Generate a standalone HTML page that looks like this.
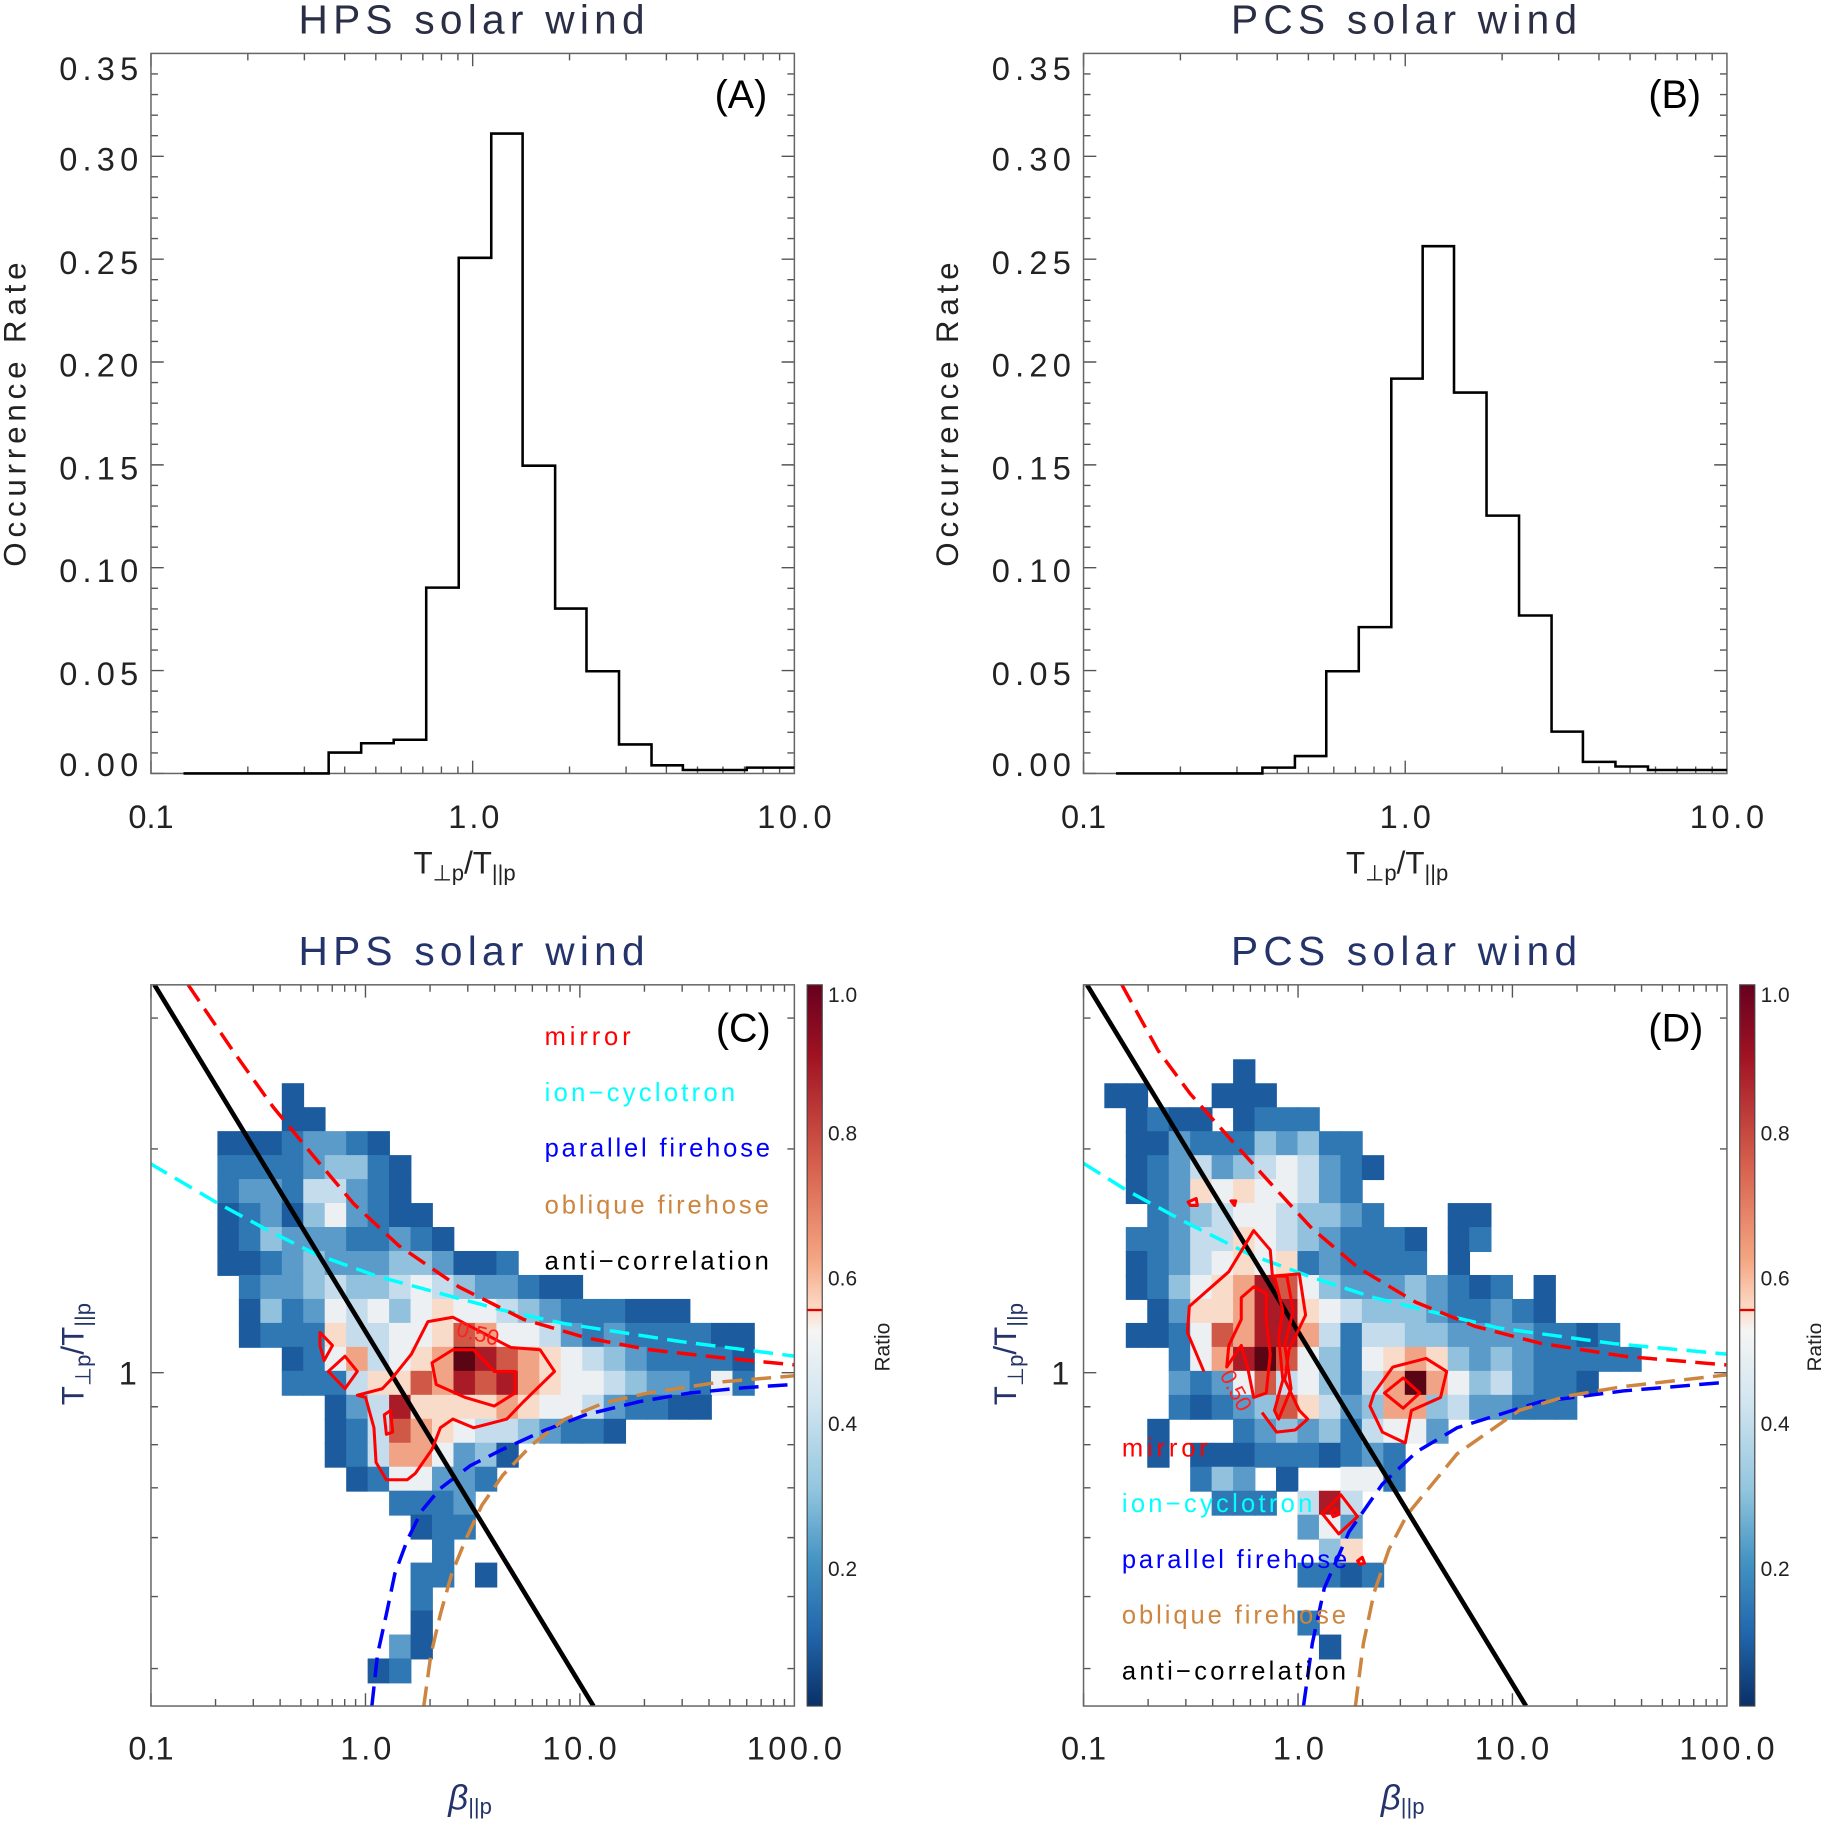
<!DOCTYPE html>
<html><head><meta charset="utf-8">
<style>
html,body{margin:0;padding:0;background:#fff;}
svg{display:block;}
text{font-family:"Liberation Sans",sans-serif;}
.a{fill:#1c5c9e}.b{fill:#2f78b4}.c{fill:#5b9bca}.d{fill:#92c1de}.e{fill:#c5dcec}.f{fill:#ecf0f3}.g{fill:#f9dbca}.h{fill:#f1a386}.i{fill:#d05846}.j{fill:#a91b27}.k{fill:#5a0514}
</style></head>
<body>
<svg width="1821" height="1821" viewBox="0 0 1568 1568">
<defs>
<linearGradient id="cb" x1="0" y1="0" x2="0" y2="1">
<stop offset="0" stop-color="#67001f"/><stop offset="0.1" stop-color="#a11323"/><stop offset="0.25" stop-color="#d6604d"/><stop offset="0.38" stop-color="#f4a582"/><stop offset="0.45" stop-color="#fddbc7"/><stop offset="0.48" stop-color="#f5f5f5"/><stop offset="0.58" stop-color="#d1e5f0"/><stop offset="0.7" stop-color="#92c5de"/><stop offset="0.8" stop-color="#4393c3"/><stop offset="0.9" stop-color="#2166ac"/><stop offset="1" stop-color="#0a3067"/>
</linearGradient>
<clipPath id="clC"><rect x="130" y="848" width="554" height="621"/></clipPath>
<clipPath id="clD"><rect x="933" y="848" width="554" height="621"/></clipPath>
<path id="decA" d="M0,666v-11M0,46v11M83.4,666v-6M83.4,46v6M132.1,666v-6M132.1,46v6M166.8,666v-6M166.8,46v6M193.6,666v-6M193.6,46v6M215.5,666v-6M215.5,46v6M234.1,666v-6M234.1,46v6M250.1,666v-6M250.1,46v6M264.3,666v-6M264.3,46v6"/>
<path id="decC" d="M0,1469v-11M0,848v11M55.6,1469v-6M55.6,848v6M88.1,1469v-6M88.1,848v6M111.2,1469v-6M111.2,848v6M129.1,1469v-6M129.1,848v6M143.7,1469v-6M143.7,848v6M156.1,1469v-6M156.1,848v6M166.8,1469v-6M166.8,848v6M176.2,1469v-6M176.2,848v6"/>
<path id="yA" d="M130,666h11M684,666h-11M130,648.3h6M684,648.3h-6M130,630.6h6M684,630.6h-6M130,612.9h6M684,612.9h-6M130,595.1h6M684,595.1h-6"/>
<path id="yC" d="M130,1436.7h6M684,1436.7h-6M130,1374.7h6M684,1374.7h-6M130,1324h6M684,1324h-6M130,1281.1h6M684,1281.1h-6M130,1244h6M684,1244h-6M130,1211.3h6M684,1211.3h-6M130,1182h11M684,1182h-11M130,989.3h6M684,989.3h-6M130,876.6h6M684,876.6h-6"/>
</defs>
<rect width="1568" height="1568" fill="#fff"/>

<!-- heatmap C -->
<g transform="translate(187.2,932.7) scale(18.48,20.64)">
<rect x="3" y="0" width="1.04" height="1.04" class="a"/>
<rect x="3" y="1" width="1.04" height="1.04" class="a"/><rect x="4" y="1" width="1.04" height="1.04" class="a"/>
<rect x="0" y="2" width="1.04" height="1.04" class="a"/><rect x="1" y="2" width="1.04" height="1.04" class="a"/><rect x="2" y="2" width="1.04" height="1.04" class="a"/><rect x="3" y="2" width="1.04" height="1.04" class="b"/><rect x="4" y="2" width="1.04" height="1.04" class="c"/><rect x="5" y="2" width="1.04" height="1.04" class="c"/><rect x="6" y="2" width="1.04" height="1.04" class="b"/><rect x="7" y="2" width="1.04" height="1.04" class="a"/>
<rect x="0" y="3" width="1.04" height="1.04" class="b"/><rect x="1" y="3" width="1.04" height="1.04" class="b"/><rect x="2" y="3" width="1.04" height="1.04" class="b"/><rect x="3" y="3" width="1.04" height="1.04" class="b"/><rect x="4" y="3" width="1.04" height="1.04" class="c"/><rect x="5" y="3" width="1.04" height="1.04" class="d"/><rect x="6" y="3" width="1.04" height="1.04" class="d"/><rect x="7" y="3" width="1.04" height="1.04" class="b"/><rect x="8" y="3" width="1.04" height="1.04" class="a"/>
<rect x="0" y="4" width="1.04" height="1.04" class="b"/><rect x="1" y="4" width="1.04" height="1.04" class="c"/><rect x="2" y="4" width="1.04" height="1.04" class="c"/><rect x="3" y="4" width="1.04" height="1.04" class="b"/><rect x="4" y="4" width="1.04" height="1.04" class="e"/><rect x="5" y="4" width="1.04" height="1.04" class="e"/><rect x="6" y="4" width="1.04" height="1.04" class="c"/><rect x="7" y="4" width="1.04" height="1.04" class="b"/><rect x="8" y="4" width="1.04" height="1.04" class="a"/>
<rect x="0" y="5" width="1.04" height="1.04" class="a"/><rect x="1" y="5" width="1.04" height="1.04" class="b"/><rect x="2" y="5" width="1.04" height="1.04" class="c"/><rect x="3" y="5" width="1.04" height="1.04" class="a"/><rect x="4" y="5" width="1.04" height="1.04" class="d"/><rect x="5" y="5" width="1.04" height="1.04" class="f"/><rect x="6" y="5" width="1.04" height="1.04" class="c"/><rect x="7" y="5" width="1.04" height="1.04" class="b"/><rect x="8" y="5" width="1.04" height="1.04" class="a"/><rect x="9" y="5" width="1.04" height="1.04" class="a"/>
<rect x="0" y="6" width="1.04" height="1.04" class="a"/><rect x="1" y="6" width="1.04" height="1.04" class="b"/><rect x="2" y="6" width="1.04" height="1.04" class="d"/><rect x="3" y="6" width="1.04" height="1.04" class="c"/><rect x="4" y="6" width="1.04" height="1.04" class="c"/><rect x="5" y="6" width="1.04" height="1.04" class="c"/><rect x="6" y="6" width="1.04" height="1.04" class="b"/><rect x="7" y="6" width="1.04" height="1.04" class="b"/><rect x="8" y="6" width="1.04" height="1.04" class="c"/><rect x="9" y="6" width="1.04" height="1.04" class="b"/><rect x="10" y="6" width="1.04" height="1.04" class="a"/>
<rect x="0" y="7" width="1.04" height="1.04" class="a"/><rect x="1" y="7" width="1.04" height="1.04" class="a"/><rect x="2" y="7" width="1.04" height="1.04" class="b"/><rect x="3" y="7" width="1.04" height="1.04" class="c"/><rect x="4" y="7" width="1.04" height="1.04" class="d"/><rect x="5" y="7" width="1.04" height="1.04" class="c"/><rect x="6" y="7" width="1.04" height="1.04" class="c"/><rect x="7" y="7" width="1.04" height="1.04" class="c"/><rect x="8" y="7" width="1.04" height="1.04" class="d"/><rect x="9" y="7" width="1.04" height="1.04" class="d"/><rect x="10" y="7" width="1.04" height="1.04" class="c"/><rect x="11" y="7" width="1.04" height="1.04" class="a"/><rect x="12" y="7" width="1.04" height="1.04" class="a"/><rect x="13" y="7" width="1.04" height="1.04" class="b"/>
<rect x="1" y="8" width="1.04" height="1.04" class="b"/><rect x="2" y="8" width="1.04" height="1.04" class="c"/><rect x="3" y="8" width="1.04" height="1.04" class="c"/><rect x="4" y="8" width="1.04" height="1.04" class="d"/><rect x="5" y="8" width="1.04" height="1.04" class="e"/><rect x="6" y="8" width="1.04" height="1.04" class="d"/><rect x="7" y="8" width="1.04" height="1.04" class="d"/><rect x="8" y="8" width="1.04" height="1.04" class="e"/><rect x="9" y="8" width="1.04" height="1.04" class="f"/><rect x="10" y="8" width="1.04" height="1.04" class="e"/><rect x="11" y="8" width="1.04" height="1.04" class="d"/><rect x="12" y="8" width="1.04" height="1.04" class="c"/><rect x="13" y="8" width="1.04" height="1.04" class="c"/><rect x="14" y="8" width="1.04" height="1.04" class="b"/><rect x="15" y="8" width="1.04" height="1.04" class="a"/><rect x="16" y="8" width="1.04" height="1.04" class="a"/>
<rect x="1" y="9" width="1.04" height="1.04" class="a"/><rect x="2" y="9" width="1.04" height="1.04" class="d"/><rect x="3" y="9" width="1.04" height="1.04" class="b"/><rect x="4" y="9" width="1.04" height="1.04" class="c"/><rect x="5" y="9" width="1.04" height="1.04" class="f"/><rect x="6" y="9" width="1.04" height="1.04" class="e"/><rect x="7" y="9" width="1.04" height="1.04" class="f"/><rect x="8" y="9" width="1.04" height="1.04" class="d"/><rect x="9" y="9" width="1.04" height="1.04" class="f"/><rect x="10" y="9" width="1.04" height="1.04" class="g"/><rect x="11" y="9" width="1.04" height="1.04" class="f"/><rect x="12" y="9" width="1.04" height="1.04" class="f"/><rect x="13" y="9" width="1.04" height="1.04" class="e"/><rect x="14" y="9" width="1.04" height="1.04" class="d"/><rect x="15" y="9" width="1.04" height="1.04" class="c"/><rect x="16" y="9" width="1.04" height="1.04" class="b"/><rect x="17" y="9" width="1.04" height="1.04" class="b"/><rect x="18" y="9" width="1.04" height="1.04" class="b"/><rect x="19" y="9" width="1.04" height="1.04" class="a"/><rect x="20" y="9" width="1.04" height="1.04" class="a"/><rect x="21" y="9" width="1.04" height="1.04" class="a"/>
<rect x="1" y="10" width="1.04" height="1.04" class="a"/><rect x="2" y="10" width="1.04" height="1.04" class="b"/><rect x="3" y="10" width="1.04" height="1.04" class="b"/><rect x="4" y="10" width="1.04" height="1.04" class="b"/><rect x="5" y="10" width="1.04" height="1.04" class="g"/><rect x="6" y="10" width="1.04" height="1.04" class="e"/><rect x="7" y="10" width="1.04" height="1.04" class="e"/><rect x="8" y="10" width="1.04" height="1.04" class="f"/><rect x="9" y="10" width="1.04" height="1.04" class="f"/><rect x="10" y="10" width="1.04" height="1.04" class="g"/><rect x="11" y="10" width="1.04" height="1.04" class="i"/><rect x="12" y="10" width="1.04" height="1.04" class="h"/><rect x="13" y="10" width="1.04" height="1.04" class="f"/><rect x="14" y="10" width="1.04" height="1.04" class="f"/><rect x="15" y="10" width="1.04" height="1.04" class="e"/><rect x="16" y="10" width="1.04" height="1.04" class="c"/><rect x="17" y="10" width="1.04" height="1.04" class="b"/><rect x="18" y="10" width="1.04" height="1.04" class="c"/><rect x="19" y="10" width="1.04" height="1.04" class="b"/><rect x="20" y="10" width="1.04" height="1.04" class="b"/><rect x="21" y="10" width="1.04" height="1.04" class="b"/><rect x="22" y="10" width="1.04" height="1.04" class="b"/><rect x="23" y="10" width="1.04" height="1.04" class="a"/><rect x="24" y="10" width="1.04" height="1.04" class="a"/>
<rect x="3" y="11" width="1.04" height="1.04" class="a"/><rect x="4" y="11" width="1.04" height="1.04" class="b"/><rect x="5" y="11" width="1.04" height="1.04" class="f"/><rect x="6" y="11" width="1.04" height="1.04" class="h"/><rect x="7" y="11" width="1.04" height="1.04" class="e"/><rect x="8" y="11" width="1.04" height="1.04" class="f"/><rect x="9" y="11" width="1.04" height="1.04" class="g"/><rect x="10" y="11" width="1.04" height="1.04" class="h"/><rect x="11" y="11" width="1.04" height="1.04" class="k"/><rect x="12" y="11" width="1.04" height="1.04" class="j"/><rect x="13" y="11" width="1.04" height="1.04" class="i"/><rect x="14" y="11" width="1.04" height="1.04" class="h"/><rect x="15" y="11" width="1.04" height="1.04" class="g"/><rect x="16" y="11" width="1.04" height="1.04" class="f"/><rect x="17" y="11" width="1.04" height="1.04" class="e"/><rect x="18" y="11" width="1.04" height="1.04" class="d"/><rect x="19" y="11" width="1.04" height="1.04" class="c"/><rect x="20" y="11" width="1.04" height="1.04" class="b"/><rect x="21" y="11" width="1.04" height="1.04" class="b"/><rect x="22" y="11" width="1.04" height="1.04" class="b"/><rect x="23" y="11" width="1.04" height="1.04" class="b"/><rect x="24" y="11" width="1.04" height="1.04" class="a"/>
<rect x="3" y="12" width="1.04" height="1.04" class="b"/><rect x="4" y="12" width="1.04" height="1.04" class="b"/><rect x="5" y="12" width="1.04" height="1.04" class="b"/><rect x="6" y="12" width="1.04" height="1.04" class="e"/><rect x="7" y="12" width="1.04" height="1.04" class="g"/><rect x="8" y="12" width="1.04" height="1.04" class="g"/><rect x="9" y="12" width="1.04" height="1.04" class="i"/><rect x="10" y="12" width="1.04" height="1.04" class="h"/><rect x="11" y="12" width="1.04" height="1.04" class="j"/><rect x="12" y="12" width="1.04" height="1.04" class="i"/><rect x="13" y="12" width="1.04" height="1.04" class="j"/><rect x="14" y="12" width="1.04" height="1.04" class="h"/><rect x="15" y="12" width="1.04" height="1.04" class="g"/><rect x="16" y="12" width="1.04" height="1.04" class="f"/><rect x="17" y="12" width="1.04" height="1.04" class="f"/><rect x="18" y="12" width="1.04" height="1.04" class="e"/><rect x="19" y="12" width="1.04" height="1.04" class="d"/><rect x="20" y="12" width="1.04" height="1.04" class="c"/><rect x="21" y="12" width="1.04" height="1.04" class="c"/><rect x="22" y="12" width="1.04" height="1.04" class="b"/><rect x="23" y="12" width="1.04" height="1.04" class="f"/><rect x="24" y="12" width="1.04" height="1.04" class="b"/>
<rect x="5" y="13" width="1.04" height="1.04" class="a"/><rect x="6" y="13" width="1.04" height="1.04" class="c"/><rect x="7" y="13" width="1.04" height="1.04" class="e"/><rect x="8" y="13" width="1.04" height="1.04" class="j"/><rect x="9" y="13" width="1.04" height="1.04" class="g"/><rect x="10" y="13" width="1.04" height="1.04" class="g"/><rect x="11" y="13" width="1.04" height="1.04" class="g"/><rect x="12" y="13" width="1.04" height="1.04" class="g"/><rect x="13" y="13" width="1.04" height="1.04" class="h"/><rect x="14" y="13" width="1.04" height="1.04" class="g"/><rect x="15" y="13" width="1.04" height="1.04" class="f"/><rect x="16" y="13" width="1.04" height="1.04" class="f"/><rect x="17" y="13" width="1.04" height="1.04" class="e"/><rect x="18" y="13" width="1.04" height="1.04" class="c"/><rect x="19" y="13" width="1.04" height="1.04" class="b"/><rect x="20" y="13" width="1.04" height="1.04" class="b"/><rect x="21" y="13" width="1.04" height="1.04" class="a"/><rect x="22" y="13" width="1.04" height="1.04" class="a"/>
<rect x="5" y="14" width="1.04" height="1.04" class="a"/><rect x="6" y="14" width="1.04" height="1.04" class="b"/><rect x="7" y="14" width="1.04" height="1.04" class="e"/><rect x="8" y="14" width="1.04" height="1.04" class="i"/><rect x="9" y="14" width="1.04" height="1.04" class="h"/><rect x="10" y="14" width="1.04" height="1.04" class="g"/><rect x="11" y="14" width="1.04" height="1.04" class="f"/><rect x="12" y="14" width="1.04" height="1.04" class="e"/><rect x="13" y="14" width="1.04" height="1.04" class="e"/><rect x="14" y="14" width="1.04" height="1.04" class="d"/><rect x="15" y="14" width="1.04" height="1.04" class="c"/><rect x="16" y="14" width="1.04" height="1.04" class="b"/><rect x="17" y="14" width="1.04" height="1.04" class="b"/><rect x="18" y="14" width="1.04" height="1.04" class="a"/>
<rect x="5" y="15" width="1.04" height="1.04" class="a"/><rect x="6" y="15" width="1.04" height="1.04" class="b"/><rect x="7" y="15" width="1.04" height="1.04" class="e"/><rect x="8" y="15" width="1.04" height="1.04" class="h"/><rect x="9" y="15" width="1.04" height="1.04" class="h"/><rect x="10" y="15" width="1.04" height="1.04" class="f"/><rect x="11" y="15" width="1.04" height="1.04" class="c"/><rect x="12" y="15" width="1.04" height="1.04" class="d"/><rect x="13" y="15" width="1.04" height="1.04" class="a"/>
<rect x="6" y="16" width="1.04" height="1.04" class="a"/><rect x="7" y="16" width="1.04" height="1.04" class="b"/><rect x="8" y="16" width="1.04" height="1.04" class="f"/><rect x="9" y="16" width="1.04" height="1.04" class="f"/><rect x="10" y="16" width="1.04" height="1.04" class="c"/><rect x="11" y="16" width="1.04" height="1.04" class="c"/><rect x="12" y="16" width="1.04" height="1.04" class="b"/>
<rect x="8" y="17" width="1.04" height="1.04" class="b"/><rect x="9" y="17" width="1.04" height="1.04" class="b"/><rect x="10" y="17" width="1.04" height="1.04" class="b"/><rect x="11" y="17" width="1.04" height="1.04" class="c"/>
<rect x="9" y="18" width="1.04" height="1.04" class="a"/><rect x="10" y="18" width="1.04" height="1.04" class="b"/><rect x="11" y="18" width="1.04" height="1.04" class="b"/>
<rect x="10" y="19" width="1.04" height="1.04" class="b"/>
<rect x="9" y="20" width="1.04" height="1.04" class="b"/><rect x="10" y="20" width="1.04" height="1.04" class="b"/><rect x="12" y="20" width="1.04" height="1.04" class="a"/>
<rect x="9" y="21" width="1.04" height="1.04" class="b"/>
<rect x="9" y="22" width="1.04" height="1.04" class="a"/>
<rect x="8" y="23" width="1.04" height="1.04" class="c"/><rect x="9" y="23" width="1.04" height="1.04" class="a"/>
<rect x="7" y="24" width="1.04" height="1.04" class="a"/><rect x="8" y="24" width="1.04" height="1.04" class="b"/>
</g>

<!-- heatmap D -->
<g transform="translate(950.9,912.1) scale(18.48,20.64)">
<rect x="6" y="0" width="1.04" height="1.04" class="a"/>
<rect x="0" y="1" width="1.04" height="1.04" class="a"/><rect x="1" y="1" width="1.04" height="1.04" class="a"/><rect x="5" y="1" width="1.04" height="1.04" class="a"/><rect x="6" y="1" width="1.04" height="1.04" class="a"/><rect x="7" y="1" width="1.04" height="1.04" class="a"/>
<rect x="1" y="2" width="1.04" height="1.04" class="a"/><rect x="2" y="2" width="1.04" height="1.04" class="b"/><rect x="3" y="2" width="1.04" height="1.04" class="a"/><rect x="4" y="2" width="1.04" height="1.04" class="a"/><rect x="6" y="2" width="1.04" height="1.04" class="a"/><rect x="7" y="2" width="1.04" height="1.04" class="b"/><rect x="8" y="2" width="1.04" height="1.04" class="b"/><rect x="9" y="2" width="1.04" height="1.04" class="b"/>
<rect x="1" y="3" width="1.04" height="1.04" class="a"/><rect x="2" y="3" width="1.04" height="1.04" class="a"/><rect x="3" y="3" width="1.04" height="1.04" class="c"/><rect x="4" y="3" width="1.04" height="1.04" class="b"/><rect x="5" y="3" width="1.04" height="1.04" class="b"/><rect x="6" y="3" width="1.04" height="1.04" class="b"/><rect x="7" y="3" width="1.04" height="1.04" class="d"/><rect x="8" y="3" width="1.04" height="1.04" class="c"/><rect x="9" y="3" width="1.04" height="1.04" class="d"/><rect x="10" y="3" width="1.04" height="1.04" class="b"/><rect x="11" y="3" width="1.04" height="1.04" class="b"/>
<rect x="1" y="4" width="1.04" height="1.04" class="a"/><rect x="2" y="4" width="1.04" height="1.04" class="b"/><rect x="3" y="4" width="1.04" height="1.04" class="c"/><rect x="4" y="4" width="1.04" height="1.04" class="e"/><rect x="5" y="4" width="1.04" height="1.04" class="c"/><rect x="6" y="4" width="1.04" height="1.04" class="d"/><rect x="7" y="4" width="1.04" height="1.04" class="e"/><rect x="8" y="4" width="1.04" height="1.04" class="f"/><rect x="9" y="4" width="1.04" height="1.04" class="e"/><rect x="10" y="4" width="1.04" height="1.04" class="c"/><rect x="11" y="4" width="1.04" height="1.04" class="b"/><rect x="12" y="4" width="1.04" height="1.04" class="a"/>
<rect x="1" y="5" width="1.04" height="1.04" class="a"/><rect x="2" y="5" width="1.04" height="1.04" class="b"/><rect x="3" y="5" width="1.04" height="1.04" class="c"/><rect x="4" y="5" width="1.04" height="1.04" class="g"/><rect x="5" y="5" width="1.04" height="1.04" class="f"/><rect x="6" y="5" width="1.04" height="1.04" class="g"/><rect x="7" y="5" width="1.04" height="1.04" class="f"/><rect x="8" y="5" width="1.04" height="1.04" class="f"/><rect x="9" y="5" width="1.04" height="1.04" class="e"/><rect x="10" y="5" width="1.04" height="1.04" class="c"/><rect x="11" y="5" width="1.04" height="1.04" class="b"/>
<rect x="2" y="6" width="1.04" height="1.04" class="b"/><rect x="3" y="6" width="1.04" height="1.04" class="c"/><rect x="4" y="6" width="1.04" height="1.04" class="d"/><rect x="5" y="6" width="1.04" height="1.04" class="e"/><rect x="6" y="6" width="1.04" height="1.04" class="f"/><rect x="7" y="6" width="1.04" height="1.04" class="f"/><rect x="8" y="6" width="1.04" height="1.04" class="e"/><rect x="9" y="6" width="1.04" height="1.04" class="d"/><rect x="10" y="6" width="1.04" height="1.04" class="d"/><rect x="11" y="6" width="1.04" height="1.04" class="c"/><rect x="12" y="6" width="1.04" height="1.04" class="b"/><rect x="16" y="6" width="1.04" height="1.04" class="a"/><rect x="17" y="6" width="1.04" height="1.04" class="a"/>
<rect x="1" y="7" width="1.04" height="1.04" class="b"/><rect x="2" y="7" width="1.04" height="1.04" class="b"/><rect x="3" y="7" width="1.04" height="1.04" class="c"/><rect x="4" y="7" width="1.04" height="1.04" class="e"/><rect x="5" y="7" width="1.04" height="1.04" class="e"/><rect x="6" y="7" width="1.04" height="1.04" class="g"/><rect x="7" y="7" width="1.04" height="1.04" class="f"/><rect x="8" y="7" width="1.04" height="1.04" class="e"/><rect x="9" y="7" width="1.04" height="1.04" class="d"/><rect x="10" y="7" width="1.04" height="1.04" class="c"/><rect x="11" y="7" width="1.04" height="1.04" class="b"/><rect x="12" y="7" width="1.04" height="1.04" class="b"/><rect x="13" y="7" width="1.04" height="1.04" class="b"/><rect x="14" y="7" width="1.04" height="1.04" class="a"/><rect x="16" y="7" width="1.04" height="1.04" class="a"/><rect x="17" y="7" width="1.04" height="1.04" class="b"/>
<rect x="1" y="8" width="1.04" height="1.04" class="a"/><rect x="2" y="8" width="1.04" height="1.04" class="b"/><rect x="3" y="8" width="1.04" height="1.04" class="c"/><rect x="4" y="8" width="1.04" height="1.04" class="e"/><rect x="5" y="8" width="1.04" height="1.04" class="f"/><rect x="6" y="8" width="1.04" height="1.04" class="g"/><rect x="7" y="8" width="1.04" height="1.04" class="f"/><rect x="8" y="8" width="1.04" height="1.04" class="g"/><rect x="9" y="8" width="1.04" height="1.04" class="b"/><rect x="10" y="8" width="1.04" height="1.04" class="c"/><rect x="11" y="8" width="1.04" height="1.04" class="b"/><rect x="12" y="8" width="1.04" height="1.04" class="b"/><rect x="13" y="8" width="1.04" height="1.04" class="b"/><rect x="14" y="8" width="1.04" height="1.04" class="b"/><rect x="16" y="8" width="1.04" height="1.04" class="a"/>
<rect x="1" y="9" width="1.04" height="1.04" class="a"/><rect x="2" y="9" width="1.04" height="1.04" class="b"/><rect x="3" y="9" width="1.04" height="1.04" class="d"/><rect x="4" y="9" width="1.04" height="1.04" class="f"/><rect x="5" y="9" width="1.04" height="1.04" class="g"/><rect x="6" y="9" width="1.04" height="1.04" class="h"/><rect x="7" y="9" width="1.04" height="1.04" class="j"/><rect x="8" y="9" width="1.04" height="1.04" class="i"/><rect x="9" y="9" width="1.04" height="1.04" class="f"/><rect x="10" y="9" width="1.04" height="1.04" class="d"/><rect x="11" y="9" width="1.04" height="1.04" class="c"/><rect x="12" y="9" width="1.04" height="1.04" class="c"/><rect x="13" y="9" width="1.04" height="1.04" class="c"/><rect x="14" y="9" width="1.04" height="1.04" class="d"/><rect x="15" y="9" width="1.04" height="1.04" class="c"/><rect x="16" y="9" width="1.04" height="1.04" class="b"/><rect x="17" y="9" width="1.04" height="1.04" class="a"/><rect x="18" y="9" width="1.04" height="1.04" class="b"/><rect x="20" y="9" width="1.04" height="1.04" class="a"/>
<rect x="2" y="10" width="1.04" height="1.04" class="a"/><rect x="3" y="10" width="1.04" height="1.04" class="c"/><rect x="4" y="10" width="1.04" height="1.04" class="g"/><rect x="5" y="10" width="1.04" height="1.04" class="g"/><rect x="6" y="10" width="1.04" height="1.04" class="h"/><rect x="7" y="10" width="1.04" height="1.04" class="j"/><rect x="8" y="10" width="1.04" height="1.04" class="j"/><rect x="9" y="10" width="1.04" height="1.04" class="g"/><rect x="10" y="10" width="1.04" height="1.04" class="f"/><rect x="11" y="10" width="1.04" height="1.04" class="e"/><rect x="12" y="10" width="1.04" height="1.04" class="d"/><rect x="13" y="10" width="1.04" height="1.04" class="d"/><rect x="14" y="10" width="1.04" height="1.04" class="d"/><rect x="15" y="10" width="1.04" height="1.04" class="c"/><rect x="16" y="10" width="1.04" height="1.04" class="b"/><rect x="17" y="10" width="1.04" height="1.04" class="b"/><rect x="18" y="10" width="1.04" height="1.04" class="c"/><rect x="19" y="10" width="1.04" height="1.04" class="b"/><rect x="20" y="10" width="1.04" height="1.04" class="a"/>
<rect x="1" y="11" width="1.04" height="1.04" class="a"/><rect x="2" y="11" width="1.04" height="1.04" class="a"/><rect x="3" y="11" width="1.04" height="1.04" class="b"/><rect x="4" y="11" width="1.04" height="1.04" class="f"/><rect x="5" y="11" width="1.04" height="1.04" class="i"/><rect x="6" y="11" width="1.04" height="1.04" class="h"/><rect x="7" y="11" width="1.04" height="1.04" class="j"/><rect x="8" y="11" width="1.04" height="1.04" class="j"/><rect x="9" y="11" width="1.04" height="1.04" class="h"/><rect x="10" y="11" width="1.04" height="1.04" class="e"/><rect x="11" y="11" width="1.04" height="1.04" class="b"/><rect x="12" y="11" width="1.04" height="1.04" class="e"/><rect x="13" y="11" width="1.04" height="1.04" class="e"/><rect x="14" y="11" width="1.04" height="1.04" class="d"/><rect x="15" y="11" width="1.04" height="1.04" class="d"/><rect x="16" y="11" width="1.04" height="1.04" class="c"/><rect x="17" y="11" width="1.04" height="1.04" class="c"/><rect x="18" y="11" width="1.04" height="1.04" class="c"/><rect x="19" y="11" width="1.04" height="1.04" class="c"/><rect x="20" y="11" width="1.04" height="1.04" class="b"/><rect x="21" y="11" width="1.04" height="1.04" class="b"/><rect x="22" y="11" width="1.04" height="1.04" class="a"/><rect x="23" y="11" width="1.04" height="1.04" class="b"/>
<rect x="3" y="12" width="1.04" height="1.04" class="b"/><rect x="4" y="12" width="1.04" height="1.04" class="f"/><rect x="5" y="12" width="1.04" height="1.04" class="h"/><rect x="6" y="12" width="1.04" height="1.04" class="j"/><rect x="7" y="12" width="1.04" height="1.04" class="k"/><rect x="8" y="12" width="1.04" height="1.04" class="i"/><rect x="9" y="12" width="1.04" height="1.04" class="f"/><rect x="10" y="12" width="1.04" height="1.04" class="d"/><rect x="11" y="12" width="1.04" height="1.04" class="b"/><rect x="12" y="12" width="1.04" height="1.04" class="f"/><rect x="13" y="12" width="1.04" height="1.04" class="g"/><rect x="14" y="12" width="1.04" height="1.04" class="h"/><rect x="15" y="12" width="1.04" height="1.04" class="g"/><rect x="16" y="12" width="1.04" height="1.04" class="d"/><rect x="17" y="12" width="1.04" height="1.04" class="c"/><rect x="18" y="12" width="1.04" height="1.04" class="d"/><rect x="19" y="12" width="1.04" height="1.04" class="c"/><rect x="20" y="12" width="1.04" height="1.04" class="b"/><rect x="21" y="12" width="1.04" height="1.04" class="b"/><rect x="22" y="12" width="1.04" height="1.04" class="b"/><rect x="23" y="12" width="1.04" height="1.04" class="b"/><rect x="24" y="12" width="1.04" height="1.04" class="b"/>
<rect x="3" y="13" width="1.04" height="1.04" class="c"/><rect x="4" y="13" width="1.04" height="1.04" class="b"/><rect x="5" y="13" width="1.04" height="1.04" class="c"/><rect x="6" y="13" width="1.04" height="1.04" class="f"/><rect x="7" y="13" width="1.04" height="1.04" class="i"/><rect x="8" y="13" width="1.04" height="1.04" class="e"/><rect x="9" y="13" width="1.04" height="1.04" class="f"/><rect x="10" y="13" width="1.04" height="1.04" class="d"/><rect x="11" y="13" width="1.04" height="1.04" class="b"/><rect x="12" y="13" width="1.04" height="1.04" class="e"/><rect x="13" y="13" width="1.04" height="1.04" class="h"/><rect x="14" y="13" width="1.04" height="1.04" class="k"/><rect x="15" y="13" width="1.04" height="1.04" class="h"/><rect x="16" y="13" width="1.04" height="1.04" class="f"/><rect x="17" y="13" width="1.04" height="1.04" class="d"/><rect x="18" y="13" width="1.04" height="1.04" class="e"/><rect x="19" y="13" width="1.04" height="1.04" class="c"/><rect x="20" y="13" width="1.04" height="1.04" class="b"/><rect x="21" y="13" width="1.04" height="1.04" class="b"/><rect x="22" y="13" width="1.04" height="1.04" class="a"/>
<rect x="3" y="14" width="1.04" height="1.04" class="b"/><rect x="4" y="14" width="1.04" height="1.04" class="a"/><rect x="5" y="14" width="1.04" height="1.04" class="b"/><rect x="6" y="14" width="1.04" height="1.04" class="c"/><rect x="7" y="14" width="1.04" height="1.04" class="d"/><rect x="8" y="14" width="1.04" height="1.04" class="i"/><rect x="9" y="14" width="1.04" height="1.04" class="g"/><rect x="10" y="14" width="1.04" height="1.04" class="e"/><rect x="11" y="14" width="1.04" height="1.04" class="c"/><rect x="12" y="14" width="1.04" height="1.04" class="d"/><rect x="13" y="14" width="1.04" height="1.04" class="h"/><rect x="14" y="14" width="1.04" height="1.04" class="h"/><rect x="15" y="14" width="1.04" height="1.04" class="d"/><rect x="16" y="14" width="1.04" height="1.04" class="e"/><rect x="17" y="14" width="1.04" height="1.04" class="c"/><rect x="18" y="14" width="1.04" height="1.04" class="c"/><rect x="19" y="14" width="1.04" height="1.04" class="b"/><rect x="20" y="14" width="1.04" height="1.04" class="b"/><rect x="21" y="14" width="1.04" height="1.04" class="b"/>
<rect x="2" y="15" width="1.04" height="1.04" class="a"/><rect x="6" y="15" width="1.04" height="1.04" class="b"/><rect x="7" y="15" width="1.04" height="1.04" class="c"/><rect x="8" y="15" width="1.04" height="1.04" class="d"/><rect x="9" y="15" width="1.04" height="1.04" class="c"/><rect x="10" y="15" width="1.04" height="1.04" class="d"/><rect x="11" y="15" width="1.04" height="1.04" class="b"/><rect x="12" y="15" width="1.04" height="1.04" class="e"/><rect x="13" y="15" width="1.04" height="1.04" class="f"/><rect x="14" y="15" width="1.04" height="1.04" class="f"/><rect x="15" y="15" width="1.04" height="1.04" class="c"/>
<rect x="2" y="16" width="1.04" height="1.04" class="a"/><rect x="4" y="16" width="1.04" height="1.04" class="a"/><rect x="5" y="16" width="1.04" height="1.04" class="a"/><rect x="6" y="16" width="1.04" height="1.04" class="a"/><rect x="7" y="16" width="1.04" height="1.04" class="b"/><rect x="8" y="16" width="1.04" height="1.04" class="b"/><rect x="9" y="16" width="1.04" height="1.04" class="b"/><rect x="10" y="16" width="1.04" height="1.04" class="a"/><rect x="11" y="16" width="1.04" height="1.04" class="b"/><rect x="12" y="16" width="1.04" height="1.04" class="c"/><rect x="13" y="16" width="1.04" height="1.04" class="b"/>
<rect x="4" y="17" width="1.04" height="1.04" class="b"/><rect x="5" y="17" width="1.04" height="1.04" class="d"/><rect x="6" y="17" width="1.04" height="1.04" class="c"/><rect x="8" y="17" width="1.04" height="1.04" class="a"/><rect x="11" y="17" width="1.04" height="1.04" class="f"/><rect x="12" y="17" width="1.04" height="1.04" class="f"/><rect x="13" y="17" width="1.04" height="1.04" class="b"/>
<rect x="5" y="18" width="1.04" height="1.04" class="b"/><rect x="6" y="18" width="1.04" height="1.04" class="b"/><rect x="7" y="18" width="1.04" height="1.04" class="b"/><rect x="9" y="18" width="1.04" height="1.04" class="e"/><rect x="10" y="18" width="1.04" height="1.04" class="j"/><rect x="11" y="18" width="1.04" height="1.04" class="e"/>
<rect x="9" y="19" width="1.04" height="1.04" class="c"/><rect x="10" y="19" width="1.04" height="1.04" class="f"/><rect x="11" y="19" width="1.04" height="1.04" class="c"/>
<rect x="10" y="20" width="1.04" height="1.04" class="d"/><rect x="11" y="20" width="1.04" height="1.04" class="g"/>
<rect x="9" y="21" width="1.04" height="1.04" class="b"/><rect x="10" y="21" width="1.04" height="1.04" class="b"/><rect x="11" y="21" width="1.04" height="1.04" class="a"/><rect x="12" y="21" width="1.04" height="1.04" class="b"/>
<rect x="9" y="23" width="1.04" height="1.04" class="b"/>
<rect x="10" y="24" width="1.04" height="1.04" class="a"/>
</g>

<!-- ticks -->
<g stroke="#555" stroke-width="1.2" fill="none">
<use href="#decA" x="130"/><use href="#decA" x="407"/><use href="#decA" x="933"/><use href="#decA" x="1210"/>
<use href="#decC" x="130"/><use href="#decC" x="314.7"/><use href="#decC" x="499.3"/>
<use href="#decC" x="933"/><use href="#decC" x="1117.7"/><use href="#decC" x="1302.3"/>
<use href="#yA"/><use href="#yA" y="-88.57"/><use href="#yA" y="-177.14"/><use href="#yA" y="-265.71"/><use href="#yA" y="-354.29"/><use href="#yA" y="-442.86"/><use href="#yA" y="-531.43"/>
<use href="#yA" x="803"/><use href="#yA" x="803" y="-88.57"/><use href="#yA" x="803" y="-177.14"/><use href="#yA" x="803" y="-265.71"/><use href="#yA" x="803" y="-354.29"/><use href="#yA" x="803" y="-442.86"/><use href="#yA" x="803" y="-531.43"/>
<use href="#yC"/><use href="#yC" x="803"/>
<path d="M695,863h4M708,863h-4M695,982h4M708,982h-4M695,1107h4M708,1107h-4M695,1232h4M708,1232h-4M695,1357h4M708,1357h-4M1498,863h4M1511,863h-4M1498,982h4M1511,982h-4M1498,1107h4M1511,1107h-4M1498,1232h4M1511,1232h-4M1498,1357h4M1511,1357h-4"/>
</g>

<!-- curves C -->
<g clip-path="url(#clC)" fill="none" stroke-width="3" stroke-linejoin="round">
<polyline stroke="#0000ff" stroke-dasharray="17 8" points="320.2,1469 325,1425 332.7,1389.9 340,1355 350.6,1326.4 363,1301 379.2,1281.6 405,1262 432.8,1248 468,1232 504.3,1218.2 550,1207 593.6,1199.5 640,1195 684.8,1192"/>
<polyline stroke="#cd853f" stroke-dasharray="17 8" points="364.9,1469 371,1425 379.2,1389.9 389,1355 400.6,1326.4 415,1296 432.8,1270.4 458,1244 486.4,1222 520,1208 557.9,1199.5 620,1190 684.8,1184.6"/>
<polyline stroke="#00ffff" stroke-dasharray="17 8" points="129,1001.7 186.2,1035.3 230,1059 272,1080 325,1099 379.2,1113.7 432,1128 486.4,1139.8 585,1155 684.8,1167.8"/>
<polyline stroke="#ff0000" stroke-dasharray="17 8" points="162,848 200.5,904.7 235,953 272,998 305,1037 343.4,1072.6 395,1108 450.7,1136 505,1152 557.9,1162 620,1169 684.8,1175.3"/>
<line x1="133" y1="848" x2="511" y2="1469" stroke="#000" stroke-width="4"/>
<g stroke="#ff0000" stroke-width="2.6">
<polygon points="307.7,1201.4 329.1,1195.8 336.3,1188.3 354.2,1166 368.5,1138 389.9,1134.2 439.9,1160.3 465,1162.2 477.5,1180.9 450.7,1207 436.4,1221.9 407.8,1229.4 389.9,1221.9 379.2,1229.4 372,1248 357.7,1268.6 350.6,1274.2 332.7,1274.2 323.8,1259.2 322,1229.4 314.8,1203.3"/>
<polygon points="372,1173.4 389.9,1162.2 407.8,1162.2 425.6,1180.9 443.5,1180.9 443.5,1199.5 425.6,1210.7 400.6,1203.3 375.6,1192.1"/>
<polygon points="275.5,1147.3 286.3,1158.5 279.1,1171.5 275.5,1158.5"/>
<polygon points="282.7,1180.9 297,1167.8 307.7,1180.9 297,1195.8"/>
<polygon points="330.9,1218.2 336.3,1214.5 338.1,1233.1 332.7,1235"/>
</g>
</g>

<!-- curves D -->
<g clip-path="url(#clD)" fill="none" stroke-width="3" stroke-linejoin="round">
<polyline stroke="#0000ff" stroke-dasharray="17 8" points="1122.4,1469 1130,1415 1140.3,1367.5 1161.7,1318.9 1190.3,1277.9 1220,1250 1254.7,1229.4 1326.1,1207 1397.6,1197.7 1486.6,1190.2"/>
<polyline stroke="#cd853f" stroke-dasharray="17 8" points="1167.1,1469 1174,1415 1183.2,1371.2 1196,1334 1211.8,1304 1254.7,1251.8 1308.3,1214.4 1350,1202 1397.6,1193.9 1486.6,1183.9"/>
<polyline stroke="#00ffff" stroke-dasharray="17 8" points="933,1001.7 968.7,1024.1 1020,1052 1076,1080.1 1130,1100 1183.2,1117.4 1290.4,1143.5 1390,1157 1486.6,1166"/>
<polyline stroke="#ff0000" stroke-dasharray="17 8" points="966,848 997.3,904.7 1025,942 1058.1,979.3 1095,1020 1129.6,1057.7 1170,1092 1218.9,1121.2 1270,1142 1326.1,1156.6 1400,1168 1486.6,1175.3"/>
<line x1="936" y1="848" x2="1314" y2="1469" stroke="#000" stroke-width="4"/>
<g stroke="#ff0000" stroke-width="2.6">
<polyline points="1036.6,1180.9 1022.4,1147.3 1024.1,1124.9 1058.1,1095 1079.5,1059.6 1093.8,1076.4 1095.6,1098.8 1118.8,1096.9 1124.2,1132.4 1109.9,1162.2 1106.3,1188.3 1118.8,1214.5 1126,1221.9 1115.3,1231.3 1099.2,1233.1 1086.7,1216.3"/>
<polygon points="1068.8,1117.4 1079.5,1108.1 1090.3,1113.7 1090.3,1136.1 1093.8,1165.9 1090.3,1199.5 1079.5,1203.3 1074.2,1177.1 1068.8,1158.5 1056.3,1177.1 1058.1,1158.5 1068.8,1136.1"/>
<polygon points="1097.4,1098.8 1108.1,1098.8 1113.5,1128.6 1106.3,1158.5 1111.7,1195.8 1101,1221.9 1097.4,1214.5 1104.6,1188.3 1101,1151 1104.6,1128.6"/>
<polygon points="1183.2,1199.5 1199.3,1177.1 1227.9,1169.7 1245.7,1180.9 1240.4,1203.3 1215.3,1214.5 1210,1242.5 1190.3,1233.1 1179.6,1210.7"/>
<polygon points="1192.1,1199.5 1208.2,1186.5 1222.5,1199.5 1208.2,1212.6"/>
<polygon points="1138.5,1303.3 1154.6,1287.2 1168.9,1305.9 1152.8,1320.8"/>
<polygon points="1146,1302 1150,1299 1153,1304 1148,1306"/>
<polygon points="1023,1035 1030,1032 1031,1038 1025,1038"/>
<polygon points="1060,1034 1064,1034 1063,1038"/>
<polygon points="1169,1344 1173,1341 1175,1346 1171,1347"/>
</g>
</g>

<!-- frames -->
<g fill="none" stroke="#666" stroke-width="1.3">
<rect x="130" y="46" width="554" height="620"/>
<rect x="933" y="46" width="554" height="620"/>
<rect x="130" y="848" width="554" height="621"/>
<rect x="933" y="848" width="554" height="621"/>
</g>
<rect x="695" y="848" width="13" height="621" fill="url(#cb)" stroke="#444" stroke-width="1"/>
<rect x="1498" y="848" width="13" height="621" fill="url(#cb)" stroke="#444" stroke-width="1"/>
<line x1="695" y1="1128" x2="708" y2="1128" stroke="#d00" stroke-width="2"/>
<line x1="1498" y1="1128" x2="1511" y2="1128" stroke="#d00" stroke-width="2"/>

<!-- histograms -->
<path d="M158,666 H283 V648 H311 V640 H339 V637 H367 V506 H395 V222 H423 V115 H450 V401 H478 V524 H505 V578 H533 V641 H561 V659 H588 V663 H643 V661 H684" fill="none" stroke="#000" stroke-width="2.2"/>
<path d="M961,666 H1087 V661 H1115 V651 H1142 V578 H1170 V540 H1198 V326 H1225 V212 H1252 V338 H1280 V444 H1308 V530 H1336 V630 H1363 V656 H1391 V660 H1419 V663 H1487" fill="none" stroke="#000" stroke-width="2.2"/>

<!-- titles -->
<g fill="#2a2f45" font-size="35">
<text x="406" y="29" text-anchor="middle" textLength="298" lengthAdjust="spacing">HPS solar wind</text>
<text x="1209" y="29" text-anchor="middle" textLength="298" lengthAdjust="spacing">PCS solar wind</text>
</g>
<g fill="#24336a" font-size="35">
<text x="406" y="831" text-anchor="middle" textLength="298" lengthAdjust="spacing">HPS solar wind</text>
<text x="1209" y="831" text-anchor="middle" textLength="298" lengthAdjust="spacing">PCS solar wind</text>
</g>

<g fill="#000" font-size="34">
<text x="638" y="93" text-anchor="middle">(A)</text>
<text x="1442" y="93" text-anchor="middle">(B)</text>
<text x="640" y="897" text-anchor="middle">(C)</text>
<text x="1443" y="897" text-anchor="middle">(D)</text>
</g>

<g fill="#222" font-size="28" text-anchor="end">
<text x="119" y="69" textLength="68" lengthAdjust="spacing">0.35</text>
<text x="119" y="147" textLength="68" lengthAdjust="spacing">0.30</text>
<text x="119" y="236" textLength="68" lengthAdjust="spacing">0.25</text>
<text x="119" y="324" textLength="68" lengthAdjust="spacing">0.20</text>
<text x="119" y="413" textLength="68" lengthAdjust="spacing">0.15</text>
<text x="119" y="501" textLength="68" lengthAdjust="spacing">0.10</text>
<text x="119" y="590" textLength="68" lengthAdjust="spacing">0.05</text>
<text x="119" y="668" textLength="68" lengthAdjust="spacing">0.00</text>
<text x="922" y="69" textLength="68" lengthAdjust="spacing">0.35</text>
<text x="922" y="147" textLength="68" lengthAdjust="spacing">0.30</text>
<text x="922" y="236" textLength="68" lengthAdjust="spacing">0.25</text>
<text x="922" y="324" textLength="68" lengthAdjust="spacing">0.20</text>
<text x="922" y="413" textLength="68" lengthAdjust="spacing">0.15</text>
<text x="922" y="501" textLength="68" lengthAdjust="spacing">0.10</text>
<text x="922" y="590" textLength="68" lengthAdjust="spacing">0.05</text>
<text x="922" y="668" textLength="68" lengthAdjust="spacing">0.00</text>
</g>
<g fill="#222" font-size="28" text-anchor="middle">
<text x="130" y="713">0.1</text>
<text x="408" y="713" textLength="44" lengthAdjust="spacing">1.0</text>
<text x="684" y="713" textLength="64" lengthAdjust="spacing">10.0</text>
<text x="933" y="713">0.1</text>
<text x="1210" y="713" textLength="44" lengthAdjust="spacing">1.0</text>
<text x="1487" y="713" textLength="64" lengthAdjust="spacing">10.0</text>
</g>
<g fill="#222" font-size="27">
<text x="356" y="752">T<tspan font-size="19" dy="6">⊥p</tspan><tspan dy="-6">/T</tspan><tspan font-size="19" dy="6">||p</tspan></text>
<text x="1159" y="752">T<tspan font-size="19" dy="6">⊥p</tspan><tspan dy="-6">/T</tspan><tspan font-size="19" dy="6">||p</tspan></text>
<text transform="translate(22,357) rotate(-90)" text-anchor="middle" textLength="262" lengthAdjust="spacing">Occurrence Rate</text>
<text transform="translate(825,357) rotate(-90)" text-anchor="middle" textLength="262" lengthAdjust="spacing">Occurrence Rate</text>
</g>

<g fill="#222" font-size="28" text-anchor="middle">
<text x="130" y="1515">0.1</text>
<text x="315" y="1515" textLength="44" lengthAdjust="spacing">1.0</text>
<text x="499" y="1515" textLength="64" lengthAdjust="spacing">10.0</text>
<text x="684" y="1515" textLength="82" lengthAdjust="spacing">100.0</text>
<text x="933" y="1515">0.1</text>
<text x="1118" y="1515" textLength="44" lengthAdjust="spacing">1.0</text>
<text x="1302" y="1515" textLength="64" lengthAdjust="spacing">10.0</text>
<text x="1487" y="1515" textLength="82" lengthAdjust="spacing">100.0</text>
<text x="110" y="1192">1</text>
<text x="913" y="1192">1</text>
</g>
<g fill="#24336a" font-size="30">
<text x="386" y="1558" font-style="italic">β<tspan font-size="19" font-style="normal" dy="4">||p</tspan></text>
<text x="1189" y="1558" font-style="italic">β<tspan font-size="19" font-style="normal" dy="4">||p</tspan></text>
</g>
<g fill="#24336a" font-size="27">
<text transform="translate(72,1210) rotate(-90)">T<tspan font-size="19" dy="6">⊥p</tspan><tspan dy="-6">/T</tspan><tspan font-size="19" dy="6">||p</tspan></text>
<text transform="translate(875,1210) rotate(-90)">T<tspan font-size="19" dy="6">⊥p</tspan><tspan dy="-6">/T</tspan><tspan font-size="19" dy="6">||p</tspan></text>
</g>
<g fill="#222" font-size="18">
<text x="713" y="863">1.0</text><text x="713" y="982">0.8</text><text x="713" y="1107">0.6</text><text x="713" y="1232">0.4</text><text x="713" y="1357">0.2</text>
<text x="1516" y="863">1.0</text><text x="1516" y="982">0.8</text><text x="1516" y="1107">0.6</text><text x="1516" y="1232">0.4</text><text x="1516" y="1357">0.2</text>
<text transform="translate(766,1160) rotate(-90)" text-anchor="middle">Ratio</text>
<text transform="translate(1569,1160) rotate(-90)" text-anchor="middle">Ratio</text>
</g>

<g font-size="22">
<text x="469" y="900" fill="#ff0000" textLength="74" lengthAdjust="spacing">mirror</text>
<text x="469" y="948" fill="#00ffff" textLength="164" lengthAdjust="spacing">ion−cyclotron</text>
<text x="469" y="996" fill="#0000ff" textLength="194" lengthAdjust="spacing">parallel firehose</text>
<text x="469" y="1045" fill="#cd853f" textLength="193" lengthAdjust="spacing">oblique firehose</text>
<text x="469" y="1093" fill="#000" textLength="193" lengthAdjust="spacing">anti−correlation</text>
<text x="966" y="1254" fill="#ff0000" textLength="74" lengthAdjust="spacing">mirror</text>
<text x="966" y="1302" fill="#00ffff" textLength="164" lengthAdjust="spacing">ion−cyclotron</text>
<text x="966" y="1350" fill="#0000ff" textLength="194" lengthAdjust="spacing">parallel firehose</text>
<text x="966" y="1398" fill="#cd853f" textLength="193" lengthAdjust="spacing">oblique firehose</text>
<text x="966" y="1446" fill="#000" textLength="193" lengthAdjust="spacing">anti−correlation</text>
</g>
<text x="0" y="0" fill="#ff2020" font-size="19" transform="translate(392,1150) rotate(14)">0.50</text>
<text x="0" y="0" fill="#ff2020" font-size="19" transform="translate(1050,1184) rotate(62)">0.50</text>
</svg>
</body></html>
